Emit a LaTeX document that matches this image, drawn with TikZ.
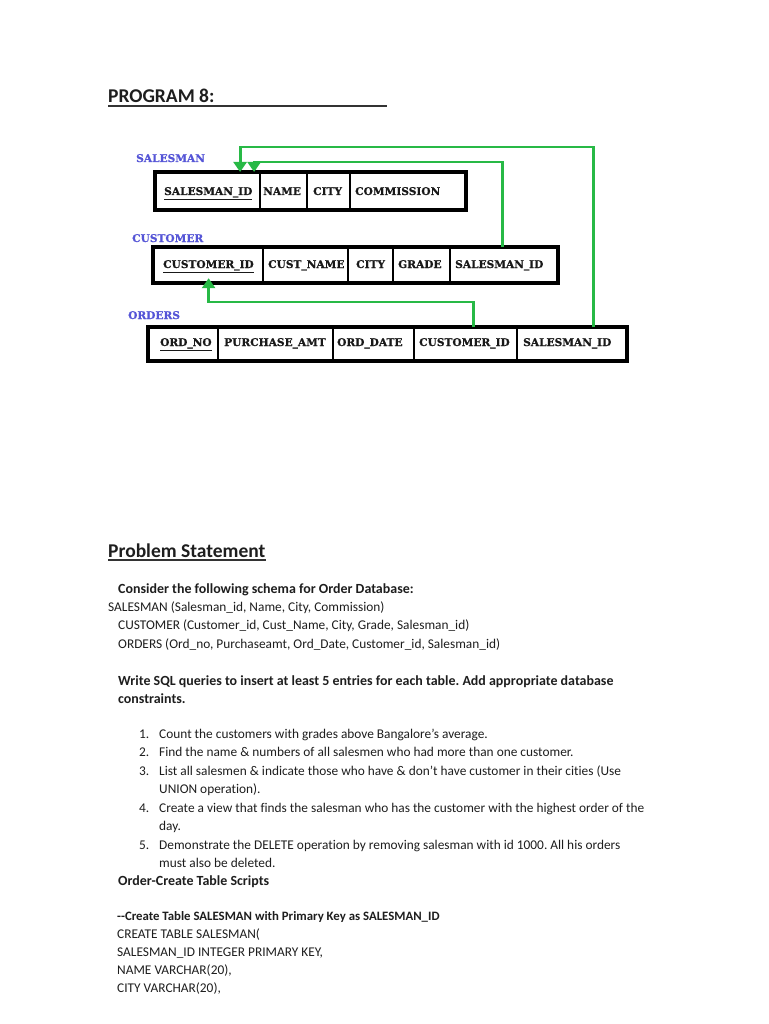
\documentclass[tikz,border=0pt]{standalone}
\usepackage{fontspec}
\setmainfont{Carlito}[Ligatures={TeX,NoCommon}]
\newfontfamily\schemafont{DejaVu Serif}[BoldFeatures={FakeBold=0.8}]
\usetikzlibrary{arrows.meta}
\definecolor{fkgreen}{RGB}{40,185,70}
\definecolor{lblblue}{RGB}{85,85,215}
\definecolor{bodytext}{RGB}{30,30,30}
\tikzset{
  cell/.style={draw=black, line width=2.2pt, inner sep=0pt, anchor=north west},
  outerline/.style={draw=black, line width=3.4pt},
  tabtxt/.style={font=\schemafont\bfseries\fontsize{10.6}{12}\selectfont, anchor=base west, inner sep=0pt, text=black!90},
  tablbl/.style={font=\schemafont\bfseries\fontsize{10.6}{12}\selectfont, anchor=base west, inner sep=0pt, text=lblblue},
  fk/.style={draw=fkgreen, line width=2.8pt, -{Triangle[width=13pt,length=10pt]}},
  body/.style={font=\fontsize{13.35}{16}\selectfont, anchor=base west, inner sep=0pt, text=bodytext},
  bodyb/.style={font=\bfseries\fontsize{13.95}{16}\selectfont, anchor=base west, inner sep=0pt, text=bodytext},
  codeb/.style={font=\bfseries\fontsize{12.8}{15}\selectfont, anchor=base west, inner sep=0pt, text=bodytext},
  head/.style={font=\bfseries\fontsize{19.5}{22}\selectfont, anchor=base west, inner sep=0pt, text=bodytext},
}
\frenchspacing
\begin{document}
\frenchspacing
\begin{tikzpicture}[x=1pt,y=-1pt]
\useasboundingbox[fill=white] (0,0) rectangle (768,1024);

% ---------- heading ----------
\node[head] (prog) at (108,103) {PROGRAM 8:};
\draw[line width=1.2pt, black!80] (prog.base west) ++(0,3) coordinate (ul1) -- ++(279,0) coordinate (ul2);

% ---------- SALESMAN table ----------
\node[tablbl] (lsales) at (136,162) {SALESMAN};
\node[cell, minimum width=104, minimum height=36] (ssid) at (155,172) {};
\node[cell, minimum width=47,  minimum height=36] (sname) at (259,172) {};
\node[cell, minimum width=43,  minimum height=36] (scity) at (306,172) {};
\node[cell, minimum width=115, minimum height=36] (scomm) at (349,172) {};
\draw[outerline] (ssid.north west) rectangle (scomm.south east);
\node[tabtxt] (tssid) at (164,195) {\underline{SALESMAN\_ID}};
\node[tabtxt] (tsname) at (263,195) {NAME};
\node[tabtxt] (tscity) at (313,195) {CITY};
\node[tabtxt] (tscomm) at (355,195) {COMMISSION};

% ---------- CUSTOMER table ----------
\node[tablbl] (lcust) at (132,242) {CUSTOMER};
\node[cell, minimum width=109, minimum height=34] (ccid) at (153,247) {};
\node[cell, minimum width=85,  minimum height=34] (cname) at (262,247) {};
\node[cell, minimum width=45,  minimum height=34] (ccity) at (347,247) {};
\node[cell, minimum width=57,  minimum height=34] (cgrade) at (392,247) {};
\node[cell, minimum width=107, minimum height=34] (csid) at (449,247) {};
\draw[outerline] (ccid.north west) rectangle (csid.south east);
\node[tabtxt] (tccid) at (163,268) {\underline{CUSTOMER\_ID}};
\node[tabtxt] (tcname) at (268,268) {CUST\_NAME};
\node[tabtxt] (tccity) at (356,268) {CITY};
\node[tabtxt] (tcgrade) at (398,268) {GRADE};
\node[tabtxt] (tcsid) at (455,268) {SALESMAN\_ID};

% ---------- ORDERS table ----------
\node[tablbl] (lord) at (128,319) {ORDERS};
\node[cell, minimum width=69,  minimum height=32] (ono) at (148,327) {};
\node[cell, minimum width=115, minimum height=32] (oamt) at (217,327) {};
\node[cell, minimum width=81,  minimum height=32] (odate) at (332,327) {};
\node[cell, minimum width=103, minimum height=32] (ocid) at (413,327) {};
\node[cell, minimum width=109, minimum height=32] (osid) at (516,327) {};
\draw[outerline] (ono.north west) rectangle (osid.south east);
\node[tabtxt] (tono) at (160,346) {\underline{ORD\_NO}};
\node[tabtxt] (toamt) at (224,346) {PURCHASE\_AMT};
\node[tabtxt] (todate) at (337,346) {ORD\_DATE};
\node[tabtxt] (tocid) at (419,346) {CUSTOMER\_ID};
\node[tabtxt] (tosid) at (523,346) {SALESMAN\_ID};

% ---------- foreign keys ----------
\draw[fk] ([xshift=21.5]osid.north) -- ++(0,-180) -| ([xshift=32]ssid.north);
\draw[fk] ([xshift=-1.5]csid.north) -- ++(0,-85) -| ([xshift=46]ssid.north);
\draw[fk, shorten >=-5pt] ([xshift=7.5]ocid.north) -- ++(0,-25) -| (ccid.south);

% ---------- Problem statement ----------
\node[head] (pst) at (108,557) {Problem Statement};
\draw[line width=1.2pt, black!80] (pst.base west) ++(0,3) coordinate (ul3) -- (pst.base east |- ul3) coordinate (ul4);

\node[bodyb] (cons) at (118,593.5) {Consider the following schema for Order Database:};
\node[body] (sch1) at (108,611.5) {SALESMAN (Salesman\_id, Name, City, Commission)};
\node[body] (sch2) at (118,629.5) {CUSTOMER (Customer\_id, Cust\_Name, City, Grade, Salesman\_id)};
\node[body] (sch3) at (118,648) {ORDERS (Ord\_no, Purchaseamt, Ord\_Date, Customer\_id, Salesman\_id)};

\node[bodyb] (wr1) at (118,685) {Write SQL queries to insert at least 5 entries for each table. Add appropriate database};
\node[bodyb] (wr2) at (118,703.5) {constraints.};

\node[body] (n1) at (139,738.5) {1.};
\node[body] (q1) at (159,738.5) {Count the customers with grades above Bangalore’s average.};
\node[body] (n2) at (139,756.5) {2.};
\node[body] (q2) at (159,756.5) {Find the name \& numbers of all salesmen who had more than one customer.};
\node[body] (n3) at (139,775.5) {3.};
\node[body] (q3) at (159,775.5) {List all salesmen \& indicate those who have \& don’t have customer in their cities (Use};
\node[body] (q3b) at (159,793.5) {UNION operation).};
\node[body] (n4) at (139,812.5) {4.};
\node[body] (q4) at (159,812.5) {Create a view that finds the salesman who has the customer with the highest order of the};
\node[body] (q4b) at (159,830.5) {day.};
\node[body] (n5) at (139,849.5) {5.};
\node[body] (q5) at (159,849.5) {Demonstrate the DELETE operation by removing salesman with id 1000. All his orders};
\node[body] (q5b) at (159,867.5) {must also be deleted.};

\node[bodyb] (oct) at (118,885.5) {Order-Create Table Scripts};

\node[codeb] (c1) at (117,920.5) {{-}{-}Create Table SALESMAN with Primary Key as SALESMAN\_ID};
\node[body] (c2) at (117,938.5) {CREATE TABLE SALESMAN(};
\node[body] (c3) at (117,956.5) {SALESMAN\_ID INTEGER PRIMARY KEY,};
\node[body] (c4) at (117,974.5) {NAME VARCHAR(20),};
\node[body] (c5) at (117,992.5) {CITY VARCHAR(20),};
\end{tikzpicture}
\end{document}
